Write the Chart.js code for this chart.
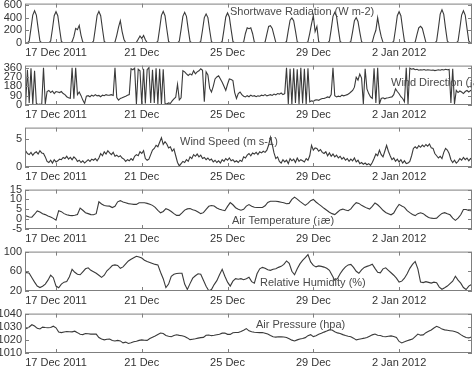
<!DOCTYPE html>
<html>
<head>
<meta charset="utf-8">
<script src="https://cdn.jsdelivr.net/npm/chart.js@4.4.0/dist/chart.umd.min.js"></script>
<style>
  html, body { margin: 0; padding: 0; background: #fff; }
  body { width: 474px; height: 366px; position: relative; overflow: hidden; }
  canvas { position: absolute; left: 0; }
</style>
</head>
<body>
<canvas id="c0" width="474" height="65"></canvas>
<canvas id="c1" width="474" height="65"></canvas>
<canvas id="c2" width="474" height="65"></canvas>
<canvas id="c3" width="474" height="65"></canvas>
<canvas id="c4" width="474" height="65"></canvas>
<canvas id="c5" width="474" height="65"></canvas>
<script>
// x axis: days since 17 Dec 2011
const dayTicks = [0, 4, 8, 12, 16];
const dayLabels = ['17 Dec 2011', '21 Dec', '25 Dec', '29 Dec', '2 Jan 2012'];
const startHour = -36;   // first sample, hours from 17 Dec

// 2-hourly series, one row per day (15 Dec 12:00 ... 5 Jan)
const radiation = [
  0,0,0,30,230,440,507,440,230,30,0,0,
  0,0,0,30,220,430,493,430,220,25,0,0,
  0,0,0,20,100,230,210,278,120,15,0,0,
  0,0,0,30,225,435,497,430,220,25,0,0,
  0,0,0,15,120,250,351,180,60,5,0,0,
  0,0,0,10,60,110,70,117,50,5,0,0,
  0,0,0,30,225,435,497,430,220,25,0,0,
  0,0,0,30,215,420,483,420,215,25,0,0,
  0,0,0,25,205,400,458,400,200,20,0,0,
  0,0,0,25,210,410,473,410,210,25,0,0,
  0,0,0,15,150,240,225,240,150,15,0,0,
  0,0,0,15,140,260,273,230,120,10,0,0,
  0,0,0,25,200,360,395,350,190,20,0,0,
  0,0,0,20,150,300,430,180,260,20,0,0,
  0,0,0,30,215,420,483,420,215,25,0,0,
  0,0,0,25,180,350,400,340,170,20,0,0,
  0,0,0,15,120,200,400,230,100,10,0,0,
  0,0,0,30,220,430,493,430,220,25,0,0,
  0,0,0,15,130,240,263,230,120,10,0,0,
  0,0,0,30,235,455,522,450,230,30,0,0,
  0,0,0,30,230,440,507,440,230,30,0,0
];
const windDir = [
  350,10,340,20,355,5,330,15,5,8,3,360,
  10,130,140,120,135,110,130,125,120,130,110,100,
  80,70,65,360,60,360,100,125,90,47,15,85,
  90,80,95,85,100,88,92,80,95,90,100,94,
  95,100,92,360,72,47,63,70,78,85,94,100,
  350,340,355,10,345,330,5,350,15,340,360,20,
  340,20,355,10,350,5,345,15,10,20,15,40,
  60,75,200,50,70,330,320,300,285,300,290,330,
  300,320,330,350,335,31,320,290,160,125,180,251,
  270,282,250,219,180,141,200,251,245,235,120,63,
  110,125,100,85,78,90,80,95,85,90,80,88,
  85,95,90,100,88,95,100,92,105,98,110,105,
  116,100,110,360,10,350,5,355,20,345,10,360,
  15,350,5,355,31,40,35,47,50,45,55,63,
  63,70,78,72,100,360,90,78,85,80,95,88,
  94,100,110,125,140,172,267,240,298,260,10,350,
  156,110,78,63,355,20,360,10,63,70,60,68,
  70,75,78,100,156,130,109,80,63,31,360,10,
  355,345,350,340,345,335,340,338,342,336,340,338,
  335,338,332,336,340,335,342,338,345,340,343,20,
  350,10,141,120,135,125,110,130,140,125,141,130
];
const windSpeed = [
  3.7,2.9,2.4,2.2,2.6,2.1,2.5,2.7,2.3,2.9,2.5,2.4,
  1.8,1.0,0.8,1.2,0.7,1.3,0.9,1.1,1.4,1.3,1.7,1.5,
  1.9,1.4,1.7,1.3,1.8,1.5,1.0,1.2,0.8,1.1,0.7,1.0,
  1.3,1.0,1.4,1.2,1.5,1.1,1.6,2.4,2.0,2.7,2.3,2.9,
  2.5,2.2,2.6,1.9,2.1,1.8,2.0,1.6,1.4,1.0,1.3,1.1,
  1.5,1.2,1.9,2.2,2.0,2.7,2.4,2.9,1.5,1.2,1.4,2.2,
  3.0,3.3,3.85,3.6,4.4,5.2,4.0,4.5,4.1,3.4,3.6,2.8,
  3.2,2.0,0.8,0.2,0.6,1.0,0.8,1.3,1.0,1.8,1.5,2.2,
  1.9,2.3,1.8,2.1,1.5,1.7,1.3,1.6,1.2,1.4,0.9,1.2,
  0.8,1.1,0.7,1.3,1.0,1.5,1.2,1.6,1.1,1.3,0.9,1.1,
  0.8,1.2,1.0,1.8,1.6,2.1,2.4,2.0,2.5,2.3,2.6,2.2,
  2.7,2.5,2.8,2.6,3.0,3.9,5.3,4.0,2.5,1.5,1.8,1.0,
  0.7,1.3,0.9,1.2,0.6,1.5,1.1,1.4,0.8,1.6,1.0,1.3,
  1.1,0.9,1.5,1.2,2.0,3.85,3.0,3.4,3.3,2.8,3.1,2.6,
  2.4,2.7,2.0,2.5,1.9,2.3,1.8,2.1,1.6,1.9,1.4,1.7,
  1.2,1.5,1.0,1.4,1.1,1.6,0.9,1.2,0.6,0.8,0.5,0.7,
  0.4,0.6,0.3,0.8,1.5,2.3,2.0,3.0,2.2,1.8,2.8,3.85,
  2.8,2.0,1.3,1.6,1.0,1.4,0.9,1.3,0.7,1.1,0.6,0.7,
  1.0,2.0,3.3,3.6,3.3,3.8,3.5,3.9,3.6,4.0,3.7,4.1,
  3.4,3.3,2.4,2.0,1.6,1.9,1.5,2.6,3.3,3.0,2.4,1.3,
  0.8,1.2,0.7,1.0,1.5,1.2,1.7,1.3,1.6,1.1,1.5,1.3
];

// 3-hourly series, one row per day
const airTemp = [
  2.2,1.6,1.1,1.0,2.5,4.2,3.6,2.7,
  2.3,1.6,1.1,0.4,-0.5,4.3,3.8,2.8,
  2.2,1.9,1.8,2.0,2.4,5.6,4.5,3.3,
  2.8,2.3,2.2,2.8,8.8,7.7,6.9,6.7,
  6.6,5.9,6.5,8.8,9.4,8.7,8.3,7.9,
  7.7,7.5,7.5,8.3,8.3,8.3,8.0,7.6,
  7.0,6.0,4.5,3.2,3.9,5.3,4.8,3.9,
  2.8,1.9,1.9,3.2,4.6,5.2,5.4,4.8,
  4.4,3.6,2.8,3.3,5.0,6.5,6.9,6.7,
  5.7,5.0,4.6,4.3,6.5,8.4,7.3,5.8,
  5.0,4.5,5.0,6.6,7.4,6.6,6.0,5.9,
  5.9,5.9,6.8,8.5,9.1,9.1,9.1,8.9,
  8.6,8.3,7.8,8.0,10.0,11.2,10.2,9.0,
  8.0,7.0,8.0,9.4,10.0,8.7,7.6,6.6,
  5.5,4.5,3.5,2.8,2.3,3.5,4.7,5.1,
  4.6,4.3,5.2,7.0,8.4,8.0,7.0,6.3,
  5.6,5.1,6.5,8.2,7.3,6.0,4.5,3.4,
  2.8,2.2,3.1,5.5,7.5,6.7,6.0,4.3,
  3.3,2.4,1.8,2.8,3.2,2.8,1.7,0.8,
  0.5,0.3,0.5,1.8,2.9,3.3,2.7,2.2,
  0.5,-0.6,0.5,2.2,4.9,4.9,4.4,4.3
];
const humidity = [
  55.5,57.4,56,47,38,30,27,29.7,
  34,42,52,47,30,26.5,34,38,
  39.4,49,64,58,54,53,59,65,
  67,62,59,56,52,47.7,52,61,
  66,71.6,73,72,66,69,75,81,
  84.5,87.5,90.5,89,87,82.6,80,78,
  76,74,73,58,45,27,34,50,
  54,55.5,56,56,34,23.2,35,46,
  51,55,54,42,29.7,20.5,23,33,
  41,53,64,50,38,30,40,45,
  44,45,43,45,48,39,36,55,
  65,68,66,63,62,64,65,68,
  70,74,81,76,60,53,65,75,
  82,88,94,79,72,69,71,70,
  68.5,66,62,52,42,45,55,63,
  69,73,74,68,60,56,63,68,
  70,71.6,74.5,66,58,57,65,67,
  62,57,52,46,38,40,46,55,
  66,74,80,65,38,37,39,37.5,
  36,38,37,28,23.5,26.5,30,35,
  40,50,42,36,27,23,30,33
];
const pressure = [
  1028.1,1028.7,1029.8,1031.5,1030.5,1028.8,1028.3,1029.7,
  1029.4,1029.2,1029.4,1030.4,1029.2,1026.0,1025.5,1026.0,
  1026.4,1026.2,1026.1,1026.6,1025.5,1024.3,1024.0,1024.8,
  1024.7,1024.4,1024.5,1024.4,1021.8,1020.7,1020.0,1020.5,
  1020.6,1019.5,1019.1,1019.6,1019.2,1017.7,1018.3,1017.3,
  1017.8,1018.6,1019.0,1019.6,1020.0,1019.7,1019.6,1021.0,
  1022.0,1023.0,1024.1,1025.2,1024.8,1023.3,1022.8,1022.4,
  1023.3,1023.9,1023.4,1023.1,1022.6,1021.5,1020.2,1020.5,
  1020.8,1021.3,1021.7,1021.9,1023.5,1023.7,1023.2,1023.5,
  1023.9,1024.3,1025.1,1025.2,1024.2,1024.2,1025.4,1025.6,
  1025.6,1026.3,1027.3,1028.6,1026.9,1026.2,1025.8,1025.6,
  1025.5,1025.6,1025.0,1024.4,1023.3,1022.4,1022.1,1022.4,
  1022.3,1022.2,1021.8,1020.8,1019.8,1019.2,1020.0,1020.7,
  1021.1,1021.7,1023.2,1024.0,1022.5,1023.2,1024.2,1025.0,
  1025.9,1026.7,1027.6,1027.5,1026.2,1025.3,1024.9,1024.0,
  1023.3,1022.8,1022.4,1021.3,1020.0,1020.5,1020.9,1021.3,
  1021.8,1022.8,1023.8,1024.4,1023.5,1023.3,1022.6,1022.4,
  1022.8,1023.0,1022.6,1021.8,1018.8,1017.7,1018.5,1019.4,
  1020.0,1020.6,1022.5,1024.4,1023.6,1023.8,1025.5,1026.5,
  1027.5,1029.0,1030.3,1029.5,1028.2,1027.6,1027.3,1027.0,
  1026.7,1026.2,1025.4,1024.0,1022.8,1021.8,1021.5,1022.2
];

const radTicks = [0, 200, 400, 600];
const dirTicks = [0, 90, 180, 270, 360];
const speedTicks = [0, 5];
const tempTicks = [-5, 0, 5, 10, 15];
const rhTicks = [20, 60, 100];
const presTicks = [1010, 1020, 1030, 1040];

const FONT = '"Liberation Sans", Arial, sans-serif';
const INK = '#3a3a3a';
const AXIS = '#7f7f7f';

// box + inward MATLAB-style ticks + label text
const framePlugin = {
  id: 'frame',
  afterDraw(chart, args, opts) {
    const { ctx, chartArea: a, scales: { x, y } } = chart;
    ctx.save();
    ctx.strokeStyle = AXIS;
    ctx.lineWidth = 1;
    ctx.strokeRect(a.left + 0.5, a.top + 0.5, a.right - a.left - 1, a.bottom - a.top - 1);
    ctx.beginPath();
    x.ticks.forEach(t => {
      const px = Math.round(x.getPixelForValue(t.value)) + 0.5;
      ctx.moveTo(px, a.bottom); ctx.lineTo(px, a.bottom - 4);
      ctx.moveTo(px, a.top); ctx.lineTo(px, a.top + 4);
    });
    y.ticks.forEach(t => {
      const py = Math.round(y.getPixelForValue(t.value)) + 0.5;
      ctx.moveTo(a.left, py); ctx.lineTo(a.left + 4, py);
      ctx.moveTo(a.right, py); ctx.lineTo(a.right - 4, py);
    });
    ctx.stroke();
    ctx.fillStyle = '#4a4a4a';
    ctx.font = '11px ' + FONT;
    ctx.textAlign = 'left';
    ctx.textBaseline = 'middle';
    ctx.fillText(opts.text, opts.x, a.top + opts.dy);
    ctx.restore();
  }
};

function makePanel(i, values, stepHours, yMin, yMax, yTicks, text, tx, ty) {
  const canvas = document.getElementById('c' + i);
  canvas.style.top = (62 * i - 6) + 'px';
  const pts = values.map((v, k) => ({ x: (startHour + k * stepHours) / 24, y: v }));
  return new Chart(canvas.getContext('2d'), {
    type: 'line',
    data: { datasets: [{ data: pts, borderColor: INK, borderWidth: 1.1, pointRadius: 0, tension: 0, fill: false }] },
    options: {
      responsive: false,
      animation: false,
      layout: { padding: { top: 8, right: 2, left: 0, bottom: 0 } },
      plugins: {
        legend: { display: false },
        tooltip: { enabled: false },
        frame: { text: text, x: tx, dy: ty }
      },
      scales: {
        x: {
          type: 'linear',
          min: -1.446,
          max: 19.4,
          grid: { display: false, drawTicks: false },
          border: { display: false },
          afterBuildTicks: s => { s.ticks = dayTicks.map(v => ({ value: v })); },
          afterFit: s => { s.height = 16; },
          ticks: {
            autoSkip: false, maxRotation: 0, padding: 3,
            color: '#333', font: { family: FONT, size: 11 },
            callback: (v, idx) => dayLabels[idx]
          }
        },
        y: {
          min: yMin,
          max: yMax,
          grid: { display: false, drawTicks: false },
          border: { display: false },
          afterBuildTicks: s => { s.ticks = yTicks.map(v => ({ value: v })); },
          afterFit: s => { s.width = 25; },
          ticks: {
            autoSkip: false, padding: 3,
            color: '#333', font: { family: FONT, size: 11 },
            callback: v => String(v)
          }
        }
      }
    },
    plugins: [framePlugin]
  });
}

makePanel(0, radiation, 2, 0, 620, radTicks, 'Shortwave Radiation (W m-2)', 230, 8);
makePanel(1, windDir, 2, 0, 380, dirTicks, 'Wind Direction (\u00a1\u00e3)', 391, 17.7);
makePanel(2, windSpeed, 2, 0, 7, speedTicks, 'Wind Speed (m s-1)', 180, 14.7);
makePanel(3, airTemp, 3, -5, 15, tempTicks, 'Air Temperature (\u00a1\u00e6)', 232, 31.3);
makePanel(4, humidity, 3, 20, 100, rhTicks, 'Relative Humidity (%)', 260, 31.7);
makePanel(5, pressure, 3, 1010, 1040, presTicks, 'Air Pressure (hpa)', 256, 11.3);
</script>
</body>
</html>
